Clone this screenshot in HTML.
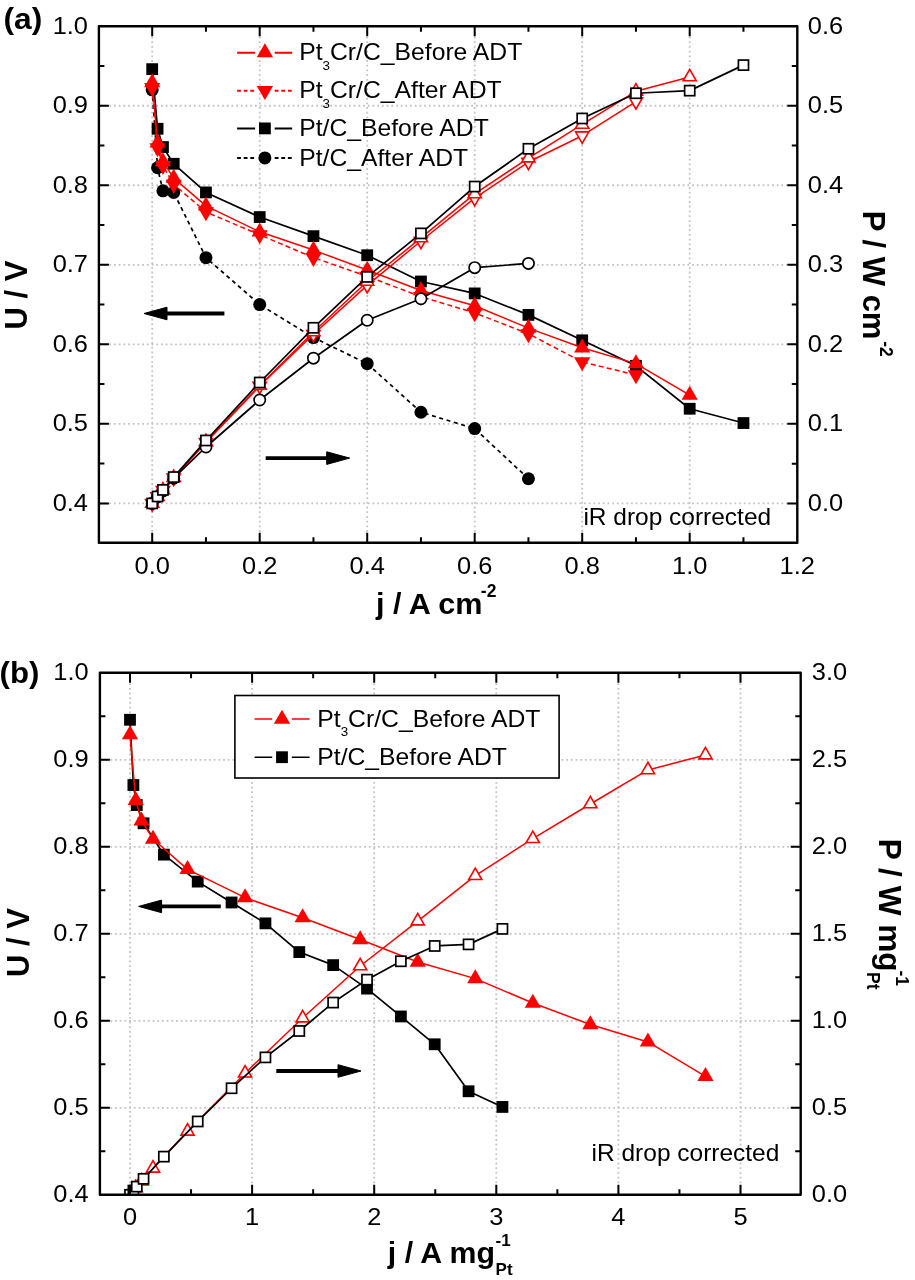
<!DOCTYPE html>
<html><head><meta charset="utf-8"><title>Polarization curves</title><style>html,body{margin:0;padding:0;background:#fff;}svg{display:block;filter:blur(0.5px);}text{font-family:"Liberation Sans",sans-serif;}</style></head><body>
<svg width="915" height="1280" viewBox="0 0 915 1280" font-family='"Liberation Sans", sans-serif' fill="#000">
<rect width="915" height="1280" fill="#fff"/>
<clipPath id="ca"><rect x="98.9" y="26.2" width="698.4" height="516.6"/></clipPath>
<path d="M152.2 27.2V541.8M259.7 27.2V541.8M367.2 27.2V541.8M474.7 27.2V541.8M582.2 27.2V541.8M689.7 27.2V541.8M99.9 503.38H796.3M99.9 423.85H796.3M99.9 344.32H796.3M99.9 264.79H796.3M99.9 185.26H796.3M99.9 105.73H796.3" stroke="#c4c4c4" stroke-width="1.8" stroke-dasharray="1.8 2.9" fill="none"/>
<g clip-path="url(#ca)">
<polyline points="152.2,89.82 157.57,167.76 162.95,190.83 173.7,192.42 205.95,257.63 259.7,304.55 313.45,337.56 367.2,363.65 420.95,412.24 474.7,428.62 528.45,478.73" fill="none" stroke="#000000" stroke-width="1.7" stroke-dasharray="4 3.6" stroke-linejoin="round"/>
<circle cx="152.2" cy="89.82" r="6.5" fill="#000000"/>
<circle cx="157.57" cy="167.76" r="6.5" fill="#000000"/>
<circle cx="162.95" cy="190.83" r="6.5" fill="#000000"/>
<circle cx="173.7" cy="192.42" r="6.5" fill="#000000"/>
<circle cx="205.95" cy="257.63" r="6.5" fill="#000000"/>
<circle cx="259.7" cy="304.55" r="6.5" fill="#000000"/>
<circle cx="313.45" cy="337.56" r="6.5" fill="#000000"/>
<circle cx="367.2" cy="363.65" r="6.5" fill="#000000"/>
<circle cx="420.95" cy="412.24" r="6.5" fill="#000000"/>
<circle cx="474.7" cy="428.62" r="6.5" fill="#000000"/>
<circle cx="528.45" cy="478.73" r="6.5" fill="#000000"/>
<polyline points="152.2,69.15 157.57,128.79 162.95,147.09 173.7,163.79 205.95,192.42 259.7,217.07 313.45,236.16 367.2,255.25 420.95,281.49 474.7,293.42 528.45,314.89 582.2,340.34 635.95,365.79 689.7,408.74 743.45,423.05" fill="none" stroke="#000000" stroke-width="1.7" stroke-linejoin="round"/>
<rect x="146.3" y="63.25" width="11.8" height="11.8" fill="#000000"/>
<rect x="151.67" y="122.89" width="11.8" height="11.8" fill="#000000"/>
<rect x="157.05" y="141.19" width="11.8" height="11.8" fill="#000000"/>
<rect x="167.8" y="157.89" width="11.8" height="11.8" fill="#000000"/>
<rect x="200.05" y="186.52" width="11.8" height="11.8" fill="#000000"/>
<rect x="253.8" y="211.17" width="11.8" height="11.8" fill="#000000"/>
<rect x="307.55" y="230.26" width="11.8" height="11.8" fill="#000000"/>
<rect x="361.3" y="249.35" width="11.8" height="11.8" fill="#000000"/>
<rect x="415.05" y="275.59" width="11.8" height="11.8" fill="#000000"/>
<rect x="468.8" y="287.52" width="11.8" height="11.8" fill="#000000"/>
<rect x="522.55" y="308.99" width="11.8" height="11.8" fill="#000000"/>
<rect x="576.3" y="334.44" width="11.8" height="11.8" fill="#000000"/>
<rect x="630.05" y="359.89" width="11.8" height="11.8" fill="#000000"/>
<rect x="683.8" y="402.84" width="11.8" height="11.8" fill="#000000"/>
<rect x="737.55" y="417.15" width="11.8" height="11.8" fill="#000000"/>
<polyline points="152.2,87.68 157.57,147.8 162.95,165.78 173.7,184.39 205.95,211.98 259.7,234.81 313.45,257.63 367.2,276.32 420.95,296.68 474.7,312.83 528.45,333.82 582.2,361.9 635.95,375.02" fill="none" stroke="#ff0000" stroke-width="1.5" stroke-dasharray="5 3.2" stroke-linejoin="round"/>
<polygon points="144.1,83.01 160.3,83.01 152.2,97.01" fill="#ff0000"/>
<polygon points="149.47,143.13 165.67,143.13 157.57,157.13" fill="#ff0000"/>
<polygon points="154.85,161.11 171.05,161.11 162.95,175.11" fill="#ff0000"/>
<polygon points="165.6,179.72 181.8,179.72 173.7,193.72" fill="#ff0000"/>
<polygon points="197.85,207.32 214.05,207.32 205.95,221.32" fill="#ff0000"/>
<polygon points="251.6,230.14 267.8,230.14 259.7,244.14" fill="#ff0000"/>
<polygon points="305.35,252.97 321.55,252.97 313.45,266.97" fill="#ff0000"/>
<polygon points="359.1,271.66 375.3,271.66 367.2,285.66" fill="#ff0000"/>
<polygon points="412.85,292.01 429.05,292.01 420.95,306.01" fill="#ff0000"/>
<polygon points="466.6,308.16 482.8,308.16 474.7,322.16" fill="#ff0000"/>
<polygon points="520.35,329.16 536.55,329.16 528.45,343.16" fill="#ff0000"/>
<polygon points="574.1,357.23 590.3,357.23 582.2,371.23" fill="#ff0000"/>
<polygon points="627.85,370.35 644.05,370.35 635.95,384.35" fill="#ff0000"/>
<polyline points="152.2,82.67 157.57,142.87 162.95,161.56 173.7,178.1 205.95,205.94 259.7,231.79 313.45,250.08 367.2,270.04 420.95,290.56 474.7,305.75 528.45,328.1 582.2,347.74 635.95,363.65 689.7,395.06" fill="none" stroke="#ff0000" stroke-width="1.5" stroke-linejoin="round"/>
<polygon points="152.2,73.33 160.3,87.33 144.1,87.33" fill="#ff0000"/>
<polygon points="157.57,133.54 165.67,147.54 149.47,147.54" fill="#ff0000"/>
<polygon points="162.95,152.23 171.05,166.23 154.85,166.23" fill="#ff0000"/>
<polygon points="173.7,168.77 181.8,182.77 165.6,182.77" fill="#ff0000"/>
<polygon points="205.95,196.6 214.05,210.6 197.85,210.6" fill="#ff0000"/>
<polygon points="259.7,222.45 267.8,236.45 251.6,236.45" fill="#ff0000"/>
<polygon points="313.45,240.74 321.55,254.74 305.35,254.74" fill="#ff0000"/>
<polygon points="367.2,260.71 375.3,274.71 359.1,274.71" fill="#ff0000"/>
<polygon points="420.95,281.22 429.05,295.22 412.85,295.22" fill="#ff0000"/>
<polygon points="474.7,296.41 482.8,310.41 466.6,310.41" fill="#ff0000"/>
<polygon points="528.45,318.76 536.55,332.76 520.35,332.76" fill="#ff0000"/>
<polygon points="582.2,338.41 590.3,352.41 574.1,352.41" fill="#ff0000"/>
<polygon points="635.95,354.31 644.05,368.31 627.85,368.31" fill="#ff0000"/>
<polygon points="689.7,385.73 697.8,399.73 681.6,399.73" fill="#ff0000"/>
<polyline points="152.2,503.4 157.57,496.66 162.95,490.29 173.7,477.92 205.95,442.45 259.7,386.06 313.45,334.24 367.2,285.33 420.95,240.99 474.7,198.2 528.45,162.03 582.2,135.72 635.95,101.57" fill="none" stroke="#ff0000" stroke-width="1.5" stroke-linejoin="round"/>
<polygon points="145.62,499.59 158.78,499.59 152.2,511.03" fill="#fff" stroke="#ff0000" stroke-width="1.6"/>
<polygon points="150.99,492.85 164.16,492.85 157.57,504.29" fill="#fff" stroke="#ff0000" stroke-width="1.6"/>
<polygon points="156.37,486.47 169.53,486.47 162.95,497.91" fill="#fff" stroke="#ff0000" stroke-width="1.6"/>
<polygon points="167.12,474.1 180.28,474.1 173.7,485.54" fill="#fff" stroke="#ff0000" stroke-width="1.6"/>
<polygon points="199.37,438.63 212.53,438.63 205.95,450.07" fill="#fff" stroke="#ff0000" stroke-width="1.6"/>
<polygon points="253.12,382.25 266.28,382.25 259.7,393.69" fill="#fff" stroke="#ff0000" stroke-width="1.6"/>
<polygon points="306.87,330.43 320.03,330.43 313.45,341.87" fill="#fff" stroke="#ff0000" stroke-width="1.6"/>
<polygon points="360.62,281.52 373.78,281.52 367.2,292.96" fill="#fff" stroke="#ff0000" stroke-width="1.6"/>
<polygon points="414.37,237.18 427.53,237.18 420.95,248.62" fill="#fff" stroke="#ff0000" stroke-width="1.6"/>
<polygon points="468.12,194.38 481.28,194.38 474.7,205.82" fill="#fff" stroke="#ff0000" stroke-width="1.6"/>
<polygon points="521.87,158.21 535.03,158.21 528.45,169.65" fill="#fff" stroke="#ff0000" stroke-width="1.6"/>
<polygon points="575.62,131.9 588.78,131.9 582.2,143.34" fill="#fff" stroke="#ff0000" stroke-width="1.6"/>
<polygon points="629.37,97.75 642.53,97.75 635.95,109.19" fill="#fff" stroke="#ff0000" stroke-width="1.6"/>
<polyline points="152.2,503.4 157.57,496.61 162.95,490.2 173.7,477.66 205.95,441.84 259.7,385.46 313.45,331.97 367.2,281.51 420.95,237.93 474.7,193.95 528.45,158.02 582.2,124.39 635.95,91.33 689.7,76.96" fill="none" stroke="#ff0000" stroke-width="1.5" stroke-linejoin="round"/>
<polygon points="152.2,495.77 158.78,507.21 145.62,507.21" fill="#fff" stroke="#ff0000" stroke-width="1.6"/>
<polygon points="157.57,488.99 164.16,500.43 150.99,500.43" fill="#fff" stroke="#ff0000" stroke-width="1.6"/>
<polygon points="162.95,482.57 169.53,494.01 156.37,494.01" fill="#fff" stroke="#ff0000" stroke-width="1.6"/>
<polygon points="173.7,470.04 180.28,481.48 167.12,481.48" fill="#fff" stroke="#ff0000" stroke-width="1.6"/>
<polygon points="205.95,434.22 212.53,445.66 199.37,445.66" fill="#fff" stroke="#ff0000" stroke-width="1.6"/>
<polygon points="259.7,377.83 266.28,389.27 253.12,389.27" fill="#fff" stroke="#ff0000" stroke-width="1.6"/>
<polygon points="313.45,324.35 320.03,335.79 306.87,335.79" fill="#fff" stroke="#ff0000" stroke-width="1.6"/>
<polygon points="367.2,273.88 373.78,285.32 360.62,285.32" fill="#fff" stroke="#ff0000" stroke-width="1.6"/>
<polygon points="420.95,230.3 427.53,241.74 414.37,241.74" fill="#fff" stroke="#ff0000" stroke-width="1.6"/>
<polygon points="474.7,186.32 481.28,197.76 468.12,197.76" fill="#fff" stroke="#ff0000" stroke-width="1.6"/>
<polygon points="528.45,150.39 535.03,161.83 521.87,161.83" fill="#fff" stroke="#ff0000" stroke-width="1.6"/>
<polygon points="582.2,116.77 588.78,128.21 575.62,128.21" fill="#fff" stroke="#ff0000" stroke-width="1.6"/>
<polygon points="635.95,83.7 642.53,95.14 629.37,95.14" fill="#fff" stroke="#ff0000" stroke-width="1.6"/>
<polygon points="689.7,69.33 696.28,80.77 683.12,80.77" fill="#fff" stroke="#ff0000" stroke-width="1.6"/>
<polyline points="152.2,503.4 157.57,496.86 162.95,490.79 173.7,478.24 205.95,447.01 259.7,400.01 313.45,358.22 367.2,320.26 420.95,298.77 474.7,267.67 528.45,263.46" fill="none" stroke="#000000" stroke-width="1.7" stroke-linejoin="round"/>
<circle cx="152.2" cy="503.4" r="5.65" fill="#fff" stroke="#000000" stroke-width="1.7"/>
<circle cx="157.57" cy="496.86" r="5.65" fill="#fff" stroke="#000000" stroke-width="1.7"/>
<circle cx="162.95" cy="490.79" r="5.65" fill="#fff" stroke="#000000" stroke-width="1.7"/>
<circle cx="173.7" cy="478.24" r="5.65" fill="#fff" stroke="#000000" stroke-width="1.7"/>
<circle cx="205.95" cy="447.01" r="5.65" fill="#fff" stroke="#000000" stroke-width="1.7"/>
<circle cx="259.7" cy="400.01" r="5.65" fill="#fff" stroke="#000000" stroke-width="1.7"/>
<circle cx="313.45" cy="358.22" r="5.65" fill="#fff" stroke="#000000" stroke-width="1.7"/>
<circle cx="367.2" cy="320.26" r="5.65" fill="#fff" stroke="#000000" stroke-width="1.7"/>
<circle cx="420.95" cy="298.77" r="5.65" fill="#fff" stroke="#000000" stroke-width="1.7"/>
<circle cx="474.7" cy="267.67" r="5.65" fill="#fff" stroke="#000000" stroke-width="1.7"/>
<circle cx="528.45" cy="263.46" r="5.65" fill="#fff" stroke="#000000" stroke-width="1.7"/>
<polyline points="152.2,503.4 157.57,496.47 162.95,489.91 173.7,477.09 205.95,440.49 259.7,382.51 313.45,327.8 367.2,276.9 420.95,233.4 474.7,186.55 528.45,148.78 582.2,118.47 635.95,93.26 689.7,90.64 743.45,65.11" fill="none" stroke="#000000" stroke-width="1.7" stroke-linejoin="round"/>
<rect x="147.15" y="498.35" width="10.1" height="10.1" fill="#fff" stroke="#000000" stroke-width="1.7"/>
<rect x="152.52" y="491.42" width="10.1" height="10.1" fill="#fff" stroke="#000000" stroke-width="1.7"/>
<rect x="157.9" y="484.86" width="10.1" height="10.1" fill="#fff" stroke="#000000" stroke-width="1.7"/>
<rect x="168.65" y="472.04" width="10.1" height="10.1" fill="#fff" stroke="#000000" stroke-width="1.7"/>
<rect x="200.9" y="435.44" width="10.1" height="10.1" fill="#fff" stroke="#000000" stroke-width="1.7"/>
<rect x="254.65" y="377.46" width="10.1" height="10.1" fill="#fff" stroke="#000000" stroke-width="1.7"/>
<rect x="308.4" y="322.75" width="10.1" height="10.1" fill="#fff" stroke="#000000" stroke-width="1.7"/>
<rect x="362.15" y="271.85" width="10.1" height="10.1" fill="#fff" stroke="#000000" stroke-width="1.7"/>
<rect x="415.9" y="228.35" width="10.1" height="10.1" fill="#fff" stroke="#000000" stroke-width="1.7"/>
<rect x="469.65" y="181.5" width="10.1" height="10.1" fill="#fff" stroke="#000000" stroke-width="1.7"/>
<rect x="523.4" y="143.73" width="10.1" height="10.1" fill="#fff" stroke="#000000" stroke-width="1.7"/>
<rect x="577.15" y="113.42" width="10.1" height="10.1" fill="#fff" stroke="#000000" stroke-width="1.7"/>
<rect x="630.9" y="88.21" width="10.1" height="10.1" fill="#fff" stroke="#000000" stroke-width="1.7"/>
<rect x="684.65" y="85.59" width="10.1" height="10.1" fill="#fff" stroke="#000000" stroke-width="1.7"/>
<rect x="738.4" y="60.06" width="10.1" height="10.1" fill="#fff" stroke="#000000" stroke-width="1.7"/>
</g>
<rect x="98.9" y="26.2" width="698.4" height="516.6" fill="none" stroke="#000" stroke-width="2.4" stroke-linejoin="round"/>
<path d="M152.2 542.8v-10M152.2 26.2v10M259.7 542.8v-10M259.7 26.2v10M367.2 542.8v-10M367.2 26.2v10M474.7 542.8v-10M474.7 26.2v10M582.2 542.8v-10M582.2 26.2v10M689.7 542.8v-10M689.7 26.2v10M205.95 542.8v-5.5M205.95 26.2v5.5M313.45 542.8v-5.5M313.45 26.2v5.5M420.95 542.8v-5.5M420.95 26.2v5.5M528.45 542.8v-5.5M528.45 26.2v5.5M635.95 542.8v-5.5M635.95 26.2v5.5M743.45 542.8v-5.5M743.45 26.2v5.5M98.9 503.38h10M98.9 423.85h10M98.9 344.32h10M98.9 264.79h10M98.9 185.26h10M98.9 105.73h10M98.9 463.62h5.5M98.9 384.08h5.5M98.9 304.55h5.5M98.9 225.02h5.5M98.9 145.5h5.5M98.9 65.97h5.5M797.3 503.4h-10M797.3 423.87h-10M797.3 344.34h-10M797.3 264.81h-10M797.3 185.28h-10M797.3 105.75h-10M797.3 463.63h-5.5M797.3 384.11h-5.5M797.3 304.57h-5.5M797.3 225.05h-5.5M797.3 145.51h-5.5M797.3 65.98h-5.5" stroke="#000" stroke-width="2" fill="none"/>
<text transform="translate(152.2 573.7) scale(1.06 1)" font-size="24" text-anchor="middle">0.0</text>
<text transform="translate(259.7 573.7) scale(1.06 1)" font-size="24" text-anchor="middle">0.2</text>
<text transform="translate(367.2 573.7) scale(1.06 1)" font-size="24" text-anchor="middle">0.4</text>
<text transform="translate(474.7 573.7) scale(1.06 1)" font-size="24" text-anchor="middle">0.6</text>
<text transform="translate(582.2 573.7) scale(1.06 1)" font-size="24" text-anchor="middle">0.8</text>
<text transform="translate(689.7 573.7) scale(1.06 1)" font-size="24" text-anchor="middle">1.0</text>
<text transform="translate(797.2 573.7) scale(1.06 1)" font-size="24" text-anchor="middle">1.2</text>
<text transform="translate(88 510.68) scale(1.06 1)" font-size="24" text-anchor="end">0.4</text>
<text transform="translate(88 431.15) scale(1.06 1)" font-size="24" text-anchor="end">0.5</text>
<text transform="translate(88 351.62) scale(1.06 1)" font-size="24" text-anchor="end">0.6</text>
<text transform="translate(88 272.09) scale(1.06 1)" font-size="24" text-anchor="end">0.7</text>
<text transform="translate(88 192.56) scale(1.06 1)" font-size="24" text-anchor="end">0.8</text>
<text transform="translate(88 113.03) scale(1.06 1)" font-size="24" text-anchor="end">0.9</text>
<text transform="translate(88 33.5) scale(1.06 1)" font-size="24" text-anchor="end">1.0</text>
<text transform="translate(807.8 510.7) scale(1.06 1)" font-size="24">0.0</text>
<text transform="translate(807.8 431.17) scale(1.06 1)" font-size="24">0.1</text>
<text transform="translate(807.8 351.64) scale(1.06 1)" font-size="24">0.2</text>
<text transform="translate(807.8 272.11) scale(1.06 1)" font-size="24">0.3</text>
<text transform="translate(807.8 192.58) scale(1.06 1)" font-size="24">0.4</text>
<text transform="translate(807.8 113.05) scale(1.06 1)" font-size="24">0.5</text>
<text transform="translate(807.8 33.52) scale(1.06 1)" font-size="24">0.6</text>
<clipPath id="cb"><rect x="99.9" y="672.8" width="700.8" height="522"/></clipPath>
<path d="M130 673.8V1193.8M252.1 673.8V1193.8M374.2 673.8V1193.8M496.3 673.8V1193.8M618.4 673.8V1193.8M740.5 673.8V1193.8M100.9 1107.8H799.7M100.9 1020.8H799.7M100.9 933.8H799.7M100.9 846.8H799.7M100.9 759.8H799.7" stroke="#c4c4c4" stroke-width="1.8" stroke-dasharray="1.8 2.9" fill="none"/>
<g clip-path="url(#cb)">
<polyline points="130,719.78 133.39,785.03 136.77,805.04 143.54,823.31 163.86,854.63 197.72,881.6 231.57,902.48 265.43,923.36 299.29,952.07 333.15,965.12 367.01,988.61 400.87,1016.45 434.72,1044.29 468.58,1091.27 502.44,1106.93" fill="none" stroke="#000000" stroke-width="1.7" stroke-linejoin="round"/>
<rect x="124.1" y="713.88" width="11.8" height="11.8" fill="#000000"/>
<rect x="127.49" y="779.13" width="11.8" height="11.8" fill="#000000"/>
<rect x="130.87" y="799.14" width="11.8" height="11.8" fill="#000000"/>
<rect x="137.64" y="817.41" width="11.8" height="11.8" fill="#000000"/>
<rect x="157.96" y="848.73" width="11.8" height="11.8" fill="#000000"/>
<rect x="191.82" y="875.7" width="11.8" height="11.8" fill="#000000"/>
<rect x="225.67" y="896.58" width="11.8" height="11.8" fill="#000000"/>
<rect x="259.53" y="917.46" width="11.8" height="11.8" fill="#000000"/>
<rect x="293.39" y="946.17" width="11.8" height="11.8" fill="#000000"/>
<rect x="327.25" y="959.22" width="11.8" height="11.8" fill="#000000"/>
<rect x="361.11" y="982.71" width="11.8" height="11.8" fill="#000000"/>
<rect x="394.97" y="1010.55" width="11.8" height="11.8" fill="#000000"/>
<rect x="428.82" y="1038.39" width="11.8" height="11.8" fill="#000000"/>
<rect x="462.68" y="1085.37" width="11.8" height="11.8" fill="#000000"/>
<rect x="496.54" y="1101.03" width="11.8" height="11.8" fill="#000000"/>
<polyline points="130,734.57 135.75,800.43 141.51,820.87 153.02,838.97 187.55,869.42 245.09,897.69 302.64,917.7 360.18,939.54 417.73,961.99 475.27,978.61 532.82,1003.05 590.37,1024.54 647.91,1041.94 705.46,1076.31" fill="none" stroke="#ff0000" stroke-width="1.5" stroke-linejoin="round"/>
<polygon points="130,725.24 138.1,739.24 121.9,739.24" fill="#ff0000"/>
<polygon points="135.75,791.1 143.85,805.1 127.65,805.1" fill="#ff0000"/>
<polygon points="141.51,811.54 149.61,825.54 133.41,825.54" fill="#ff0000"/>
<polygon points="153.02,829.64 161.12,843.64 144.92,843.64" fill="#ff0000"/>
<polygon points="187.55,860.09 195.65,874.09 179.45,874.09" fill="#ff0000"/>
<polygon points="245.09,888.36 253.19,902.36 236.99,902.36" fill="#ff0000"/>
<polygon points="302.64,908.37 310.74,922.37 294.54,922.37" fill="#ff0000"/>
<polygon points="360.18,930.21 368.28,944.21 352.08,944.21" fill="#ff0000"/>
<polygon points="417.73,952.65 425.83,966.65 409.63,966.65" fill="#ff0000"/>
<polygon points="475.27,969.27 483.37,983.27 467.17,983.27" fill="#ff0000"/>
<polygon points="532.82,993.72 540.92,1007.72 524.72,1007.72" fill="#ff0000"/>
<polygon points="590.37,1015.21 598.47,1029.21 582.27,1029.21" fill="#ff0000"/>
<polygon points="647.91,1032.61 656.01,1046.61 639.81,1046.61" fill="#ff0000"/>
<polygon points="705.46,1066.97 713.56,1080.97 697.36,1080.97" fill="#ff0000"/>
<polyline points="130,1194.8 135.75,1187.8 141.51,1181.19 153.02,1168.26 187.55,1131.33 245.09,1073.18 302.64,1018.04 360.18,966 417.73,921.06 475.27,875.71 532.82,838.66 590.37,803.99 647.91,769.9 705.46,755.08" fill="none" stroke="#ff0000" stroke-width="1.5" stroke-linejoin="round"/>
<polygon points="130,1187.17 136.58,1198.61 123.42,1198.61" fill="#fff" stroke="#ff0000" stroke-width="1.6"/>
<polygon points="135.75,1180.18 142.33,1191.62 129.17,1191.62" fill="#fff" stroke="#ff0000" stroke-width="1.6"/>
<polygon points="141.51,1173.56 148.09,1185 134.93,1185" fill="#fff" stroke="#ff0000" stroke-width="1.6"/>
<polygon points="153.02,1160.64 159.6,1172.08 146.44,1172.08" fill="#fff" stroke="#ff0000" stroke-width="1.6"/>
<polygon points="187.55,1123.7 194.13,1135.14 180.97,1135.14" fill="#fff" stroke="#ff0000" stroke-width="1.6"/>
<polygon points="245.09,1065.56 251.67,1077 238.51,1077" fill="#fff" stroke="#ff0000" stroke-width="1.6"/>
<polygon points="302.64,1010.41 309.22,1021.85 296.06,1021.85" fill="#fff" stroke="#ff0000" stroke-width="1.6"/>
<polygon points="360.18,958.38 366.76,969.82 353.6,969.82" fill="#fff" stroke="#ff0000" stroke-width="1.6"/>
<polygon points="417.73,913.44 424.31,924.88 411.15,924.88" fill="#fff" stroke="#ff0000" stroke-width="1.6"/>
<polygon points="475.27,868.09 481.85,879.53 468.69,879.53" fill="#fff" stroke="#ff0000" stroke-width="1.6"/>
<polygon points="532.82,831.04 539.4,842.48 526.24,842.48" fill="#fff" stroke="#ff0000" stroke-width="1.6"/>
<polygon points="590.37,796.36 596.95,807.8 583.79,807.8" fill="#fff" stroke="#ff0000" stroke-width="1.6"/>
<polygon points="647.91,762.27 654.49,773.71 641.33,773.71" fill="#fff" stroke="#ff0000" stroke-width="1.6"/>
<polygon points="705.46,747.46 712.04,758.9 698.88,758.9" fill="#fff" stroke="#ff0000" stroke-width="1.6"/>
<polyline points="130,1194.8 133.39,1190.6 136.77,1186.62 143.54,1178.84 163.86,1156.63 197.72,1121.46 231.57,1088.26 265.43,1057.38 299.29,1030.99 333.15,1002.57 367.01,979.65 400.87,961.27 434.72,945.97 468.58,944.38 502.44,928.89" fill="none" stroke="#000000" stroke-width="1.7" stroke-linejoin="round"/>
<rect x="124.95" y="1189.75" width="10.1" height="10.1" fill="#fff" stroke="#000000" stroke-width="1.7"/>
<rect x="128.34" y="1185.55" width="10.1" height="10.1" fill="#fff" stroke="#000000" stroke-width="1.7"/>
<rect x="131.72" y="1181.57" width="10.1" height="10.1" fill="#fff" stroke="#000000" stroke-width="1.7"/>
<rect x="138.49" y="1173.79" width="10.1" height="10.1" fill="#fff" stroke="#000000" stroke-width="1.7"/>
<rect x="158.81" y="1151.58" width="10.1" height="10.1" fill="#fff" stroke="#000000" stroke-width="1.7"/>
<rect x="192.67" y="1116.41" width="10.1" height="10.1" fill="#fff" stroke="#000000" stroke-width="1.7"/>
<rect x="226.52" y="1083.21" width="10.1" height="10.1" fill="#fff" stroke="#000000" stroke-width="1.7"/>
<rect x="260.38" y="1052.33" width="10.1" height="10.1" fill="#fff" stroke="#000000" stroke-width="1.7"/>
<rect x="294.24" y="1025.94" width="10.1" height="10.1" fill="#fff" stroke="#000000" stroke-width="1.7"/>
<rect x="328.1" y="997.52" width="10.1" height="10.1" fill="#fff" stroke="#000000" stroke-width="1.7"/>
<rect x="361.96" y="974.6" width="10.1" height="10.1" fill="#fff" stroke="#000000" stroke-width="1.7"/>
<rect x="395.82" y="956.22" width="10.1" height="10.1" fill="#fff" stroke="#000000" stroke-width="1.7"/>
<rect x="429.67" y="940.92" width="10.1" height="10.1" fill="#fff" stroke="#000000" stroke-width="1.7"/>
<rect x="463.53" y="939.33" width="10.1" height="10.1" fill="#fff" stroke="#000000" stroke-width="1.7"/>
<rect x="497.39" y="923.84" width="10.1" height="10.1" fill="#fff" stroke="#000000" stroke-width="1.7"/>
</g>
<rect x="99.9" y="672.8" width="700.8" height="522" fill="none" stroke="#000" stroke-width="2.4" stroke-linejoin="round"/>
<path d="M130 1194.8v-10M130 672.8v10M252.1 1194.8v-10M252.1 672.8v10M374.2 1194.8v-10M374.2 672.8v10M496.3 1194.8v-10M496.3 672.8v10M618.4 1194.8v-10M618.4 672.8v10M740.5 1194.8v-10M740.5 672.8v10M191.05 1194.8v-5.5M191.05 672.8v5.5M313.15 1194.8v-5.5M313.15 672.8v5.5M435.25 1194.8v-5.5M435.25 672.8v5.5M557.35 1194.8v-5.5M557.35 672.8v5.5M679.45 1194.8v-5.5M679.45 672.8v5.5M99.9 1107.8h10M99.9 1020.8h10M99.9 933.8h10M99.9 846.8h10M99.9 759.8h10M99.9 1151.3h5.5M99.9 1064.3h5.5M99.9 977.3h5.5M99.9 890.3h5.5M99.9 803.3h5.5M99.9 716.3h5.5M800.7 1107.8h-10M800.7 1020.8h-10M800.7 933.8h-10M800.7 846.8h-10M800.7 759.8h-10M800.7 1151.3h-5.5M800.7 1064.3h-5.5M800.7 977.3h-5.5M800.7 890.3h-5.5M800.7 803.3h-5.5M800.7 716.3h-5.5" stroke="#000" stroke-width="2" fill="none"/>
<text transform="translate(130 1224.9) scale(1.06 1)" font-size="24" text-anchor="middle">0</text>
<text transform="translate(252.1 1224.9) scale(1.06 1)" font-size="24" text-anchor="middle">1</text>
<text transform="translate(374.2 1224.9) scale(1.06 1)" font-size="24" text-anchor="middle">2</text>
<text transform="translate(496.3 1224.9) scale(1.06 1)" font-size="24" text-anchor="middle">3</text>
<text transform="translate(618.4 1224.9) scale(1.06 1)" font-size="24" text-anchor="middle">4</text>
<text transform="translate(740.5 1224.9) scale(1.06 1)" font-size="24" text-anchor="middle">5</text>
<text transform="translate(88.6 1202.1) scale(1.06 1)" font-size="24" text-anchor="end">0.4</text>
<text transform="translate(88.6 1115.1) scale(1.06 1)" font-size="24" text-anchor="end">0.5</text>
<text transform="translate(88.6 1028.1) scale(1.06 1)" font-size="24" text-anchor="end">0.6</text>
<text transform="translate(88.6 941.1) scale(1.06 1)" font-size="24" text-anchor="end">0.7</text>
<text transform="translate(88.6 854.1) scale(1.06 1)" font-size="24" text-anchor="end">0.8</text>
<text transform="translate(88.6 767.1) scale(1.06 1)" font-size="24" text-anchor="end">0.9</text>
<text transform="translate(88.6 680.1) scale(1.06 1)" font-size="24" text-anchor="end">1.0</text>
<text transform="translate(811.8 1202.1) scale(1.06 1)" font-size="24">0.0</text>
<text transform="translate(811.8 1115.1) scale(1.06 1)" font-size="24">0.5</text>
<text transform="translate(811.8 1028.1) scale(1.06 1)" font-size="24">1.0</text>
<text transform="translate(811.8 941.1) scale(1.06 1)" font-size="24">1.5</text>
<text transform="translate(811.8 854.1) scale(1.06 1)" font-size="24">2.0</text>
<text transform="translate(811.8 767.1) scale(1.06 1)" font-size="24">2.5</text>
<text transform="translate(811.8 680.1) scale(1.06 1)" font-size="24">3.0</text>
<line x1="224.4" y1="313.5" x2="165" y2="313.5" stroke="#000" stroke-width="3.8"/><polygon points="144,313.5 167,307.2 167,319.8" fill="#000" stroke="#000" stroke-width="1" stroke-linejoin="round"/>
<line x1="265.7" y1="458.1" x2="328.7" y2="458.1" stroke="#000" stroke-width="3.8"/><polygon points="349.7,458.1 326.7,451.8 326.7,464.4" fill="#000" stroke="#000" stroke-width="1" stroke-linejoin="round"/>
<line x1="220.8" y1="906.4" x2="159.6" y2="906.4" stroke="#000" stroke-width="3.8"/><polygon points="138.6,906.4 161.6,900.1 161.6,912.7" fill="#000" stroke="#000" stroke-width="1" stroke-linejoin="round"/>
<line x1="276.3" y1="1071" x2="340" y2="1071" stroke="#000" stroke-width="3.8"/><polygon points="361,1071 338,1064.7 338,1077.3" fill="#000" stroke="#000" stroke-width="1" stroke-linejoin="round"/>
<text transform="translate(3.5 28.5) scale(1.06 1)" font-size="30" font-weight="bold">(a)</text>
<text transform="translate(-0.5 682.8) scale(1.04 1)" font-size="30" font-weight="bold">(b)</text>
<text transform="translate(27 295.1) rotate(-90)" font-size="31" font-weight="bold" text-anchor="middle">U / V</text>
<text transform="translate(29 942.6) rotate(-90)" font-size="31" font-weight="bold" text-anchor="middle">U / V</text>
<text transform="translate(375.9 613.7) scale(1.02 1)" font-size="30" font-weight="bold">j / A cm</text>
<text transform="translate(480.8 597.1)" font-size="17.5" font-weight="bold">-2</text>
<text transform="translate(387.8 1263.4) scale(1.01 1)" font-size="30" font-weight="bold">j / A mg</text>
<text transform="translate(495.5 1246.4)" font-size="17" font-weight="bold">-1</text>
<text transform="translate(495.6 1275.4)" font-size="17" font-weight="bold">Pt</text>
<text transform="translate(863.3 210.8) rotate(90)" font-size="31" font-weight="bold">P / W cm</text>
<text transform="translate(879.7 341.2) rotate(90)" font-size="17.5" font-weight="bold">-2</text>
<text transform="translate(879.4 838.8) rotate(90) scale(1.02 1)" font-size="31" font-weight="bold">P / W mg</text>
<text transform="translate(896 970.5) rotate(90)" font-size="17.5" font-weight="bold">-1</text>
<text transform="translate(866.5 972) rotate(90)" font-size="17.5" font-weight="bold">Pt</text>
<text transform="translate(583.4 524.7) scale(1.02 1)" font-size="24">iR drop corrected</text>
<text transform="translate(591.6 1161.4) scale(1.02 1)" font-size="24">iR drop corrected</text>
<path d="M237.1 52.7H255.1 M274.7 52.7H292.2" stroke="#ff0000" stroke-width="2.0"/>
<polygon points="264.9,43.37 273.05,57.37 256.75,57.37" fill="#ff0000"/>
<text transform="translate(299.2 60.3) scale(1.03 1)" font-size="24">Pt<tspan font-size="13" dy="9.6">3</tspan><tspan dy="-9.6">Cr/C_Before ADT</tspan></text>
<path d="M237.1 90.7H255.1 M274.7 90.7H292.2" stroke="#ff0000" stroke-width="2.0" stroke-dasharray="3.8 2.8"/>
<polygon points="256.75,86.03 273.05,86.03 264.9,100.03" fill="#ff0000"/>
<text transform="translate(299.2 98.3) scale(1.03 1)" font-size="24">Pt<tspan font-size="13" dy="9.6">3</tspan><tspan dy="-9.6">Cr/C_After ADT</tspan></text>
<path d="M237.1 128.4H255.1 M274.7 128.4H292.2" stroke="#000000" stroke-width="2.0"/>
<rect x="259" y="122.5" width="11.8" height="11.8" fill="#000000"/>
<text transform="translate(299.2 136) scale(1.03 1)" font-size="24">Pt/C_Before ADT</text>
<path d="M237.1 157.9H255.1 M274.7 157.9H292.2" stroke="#000000" stroke-width="2.0" stroke-dasharray="3.8 2.8"/>
<circle cx="264.9" cy="157.9" r="6.5" fill="#000000"/>
<text transform="translate(299.2 165.5) scale(1.03 1)" font-size="24">Pt/C_After ADT</text>
<rect x="234.9" y="695.5" width="324.2" height="82.5" fill="#fff" stroke="#000" stroke-width="1.6"/>
<path d="M254.6 719H272.2 M291.8 719H309.6" stroke="#ff0000" stroke-width="1.5"/>
<polygon points="282,709.67 290.15,723.67 273.85,723.67" fill="#ff0000"/>
<text transform="translate(317.3 726.6) scale(1.03 1)" font-size="24">Pt<tspan font-size="13" dy="9.6">3</tspan><tspan dy="-9.6">Cr/C_Before ADT</tspan></text>
<path d="M254.6 757.2H272.2 M291.8 757.2H309.6" stroke="#000000" stroke-width="1.5"/>
<rect x="276.1" y="751.3" width="11.8" height="11.8" fill="#000000"/>
<text transform="translate(317.3 764.8) scale(1.03 1)" font-size="24">Pt/C_Before ADT</text>
</svg>
</body></html>
